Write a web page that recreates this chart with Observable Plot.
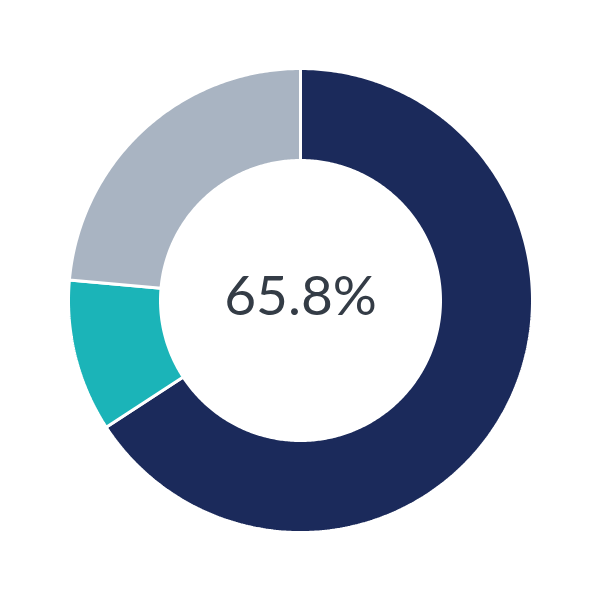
<!DOCTYPE html>
<html>
<head>
<meta charset="utf-8">
<script src="https://cdn.jsdelivr.net/npm/d3@7"></script>
<script src="https://cdn.jsdelivr.net/npm/@observablehq/plot@0.6"></script>
<style>
  html, body { margin: 0; padding: 0; background: #fff; }
</style>
</head>
<body>
<div id="chart"></div>
<script>
const categories = ["A", "B", "C"];
const values = [65.8, 10.6, 23.6];
const colors = ["#1b2a5b", "#1bb4b8", "#a9b4c2"];
const centerLabel = "65.8%";

const outerR = 232, innerR = 140;
const pie = d3.pie().sort(null).value(d => d.value)(categories.map((c, i) => ({category: c, value: values[i]})));

// polygon points for each slice (angle clockwise from top)
const pts = [];
for (const s of pie) {
  const n = Math.max(8, Math.ceil((s.endAngle - s.startAngle) * 90));
  for (let k = 0; k <= n; k++) {
    const a = s.startAngle + (s.endAngle - s.startAngle) * k / n;
    pts.push({category: s.data.category, x: outerR * Math.sin(a), y: -outerR * Math.cos(a)});
  }
  for (let k = n; k >= 0; k--) {
    const a = s.startAngle + (s.endAngle - s.startAngle) * k / n;
    pts.push({category: s.data.category, x: innerR * Math.sin(a), y: -innerR * Math.cos(a)});
  }
}

const chart = Plot.plot({
  width: 600,
  height: 600,
  margin: 0,
  x: {domain: [-300, 300], axis: null},
  y: {domain: [-300, 300], range: [0, 600], axis: null},
  color: {domain: categories, range: colors},
  marks: [
    Plot.line(pts, {x: "x", y: "y", z: "category", fill: "category", stroke: "white", strokeWidth: 3, strokeLinejoin: "miter", curve: "linear-closed"}),
    Plot.text([centerLabel], {x: () => 0, y: () => -3, text: d => d, fontSize: 55, fontFamily: "Lato", fontWeight: 400, fill: "#343c46", textAnchor: "middle", lineAnchor: "middle"})
  ]
});
document.getElementById("chart").appendChild(chart);
</script>
</body>
</html>
